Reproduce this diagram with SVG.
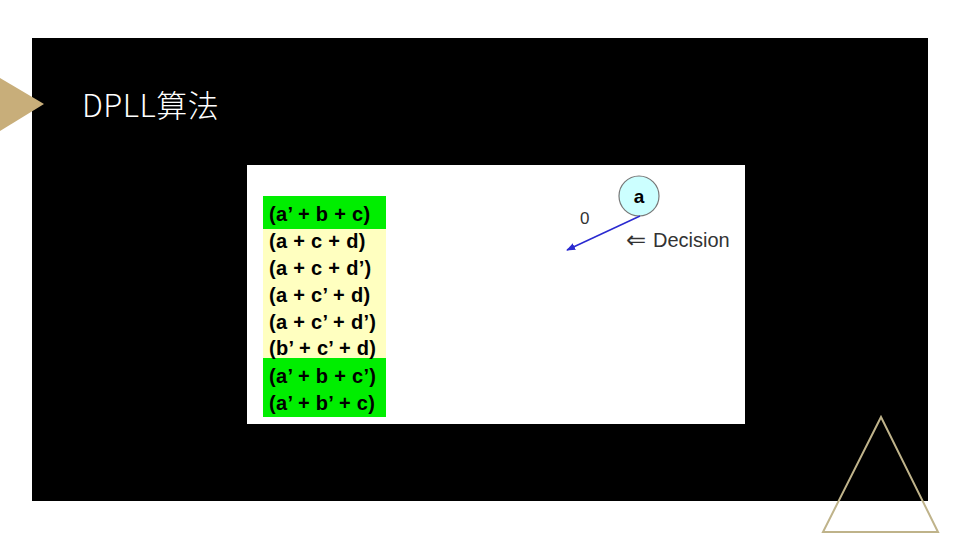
<svg xmlns="http://www.w3.org/2000/svg" width="960" height="540" viewBox="0 0 960 540">
<style>
.cl{font-family:"Liberation Sans",Arial,sans-serif;font-weight:bold;font-size:20px;fill:#000;letter-spacing:0.3px}
</style>
<defs>
<marker id="ah" viewBox="0 0 10 10" refX="9" refY="5" markerWidth="6" markerHeight="6" orient="auto"><path d="M0,1 L10,5 L0,9 z" fill="#2a2ad0"/></marker>
</defs>
<rect width="960" height="540" fill="#fff"/>
<rect x="32" y="38" width="896" height="463" fill="#000"/>
<polygon points="0,78 44,104 0,131" fill="#c8ae7a"/>
<text x="82" y="117" font-family="'Noto Sans CJK SC',sans-serif" font-weight="300" font-size="31" fill="#fff" letter-spacing="0.5">DPLL算法</text>
<rect x="247" y="165" width="498" height="259" fill="#fff"/>
<g id="clauses">
<rect x="263" y="196" width="123" height="33" fill="#00ee00"/>
<rect x="263" y="229" width="123" height="129" fill="#ffffc0"/>
<rect x="263" y="358" width="123" height="59" fill="#00ee00"/>
<text class="cl" x="269" y="221">(a’ + b + c)</text>
<text class="cl" x="269" y="248">(a + c + d)</text>
<text class="cl" x="269" y="275">(a + c + d’)</text>
<text class="cl" x="269" y="302">(a + c’ + d)</text>
<text class="cl" x="269" y="329">(a + c’ + d’)</text>
<text class="cl" x="269" y="355">(b’ + c’ + d)</text>
<text class="cl" x="269" y="383">(a’ + b + c’)</text>
<text class="cl" x="269" y="410">(a’ + b’ + c)</text>
</g>
<g id="node-a">
<circle cx="639" cy="196" r="20" fill="#ccffff" stroke="#777" stroke-width="1.2"/>
<text x="639" y="203" text-anchor="middle" font-family="'Liberation Sans',Arial,sans-serif" font-weight="bold" font-size="19">a</text>
</g>
<g id="connectors">
<line x1="640" y1="216" x2="567" y2="250" stroke="#2a2ad0" stroke-width="1.5" marker-end="url(#ah)"/>
</g>
<text x="580" y="224" font-family="'Liberation Sans',Arial,sans-serif" font-size="17" fill="#333">0</text>
<text x="626" y="248" font-family="'DejaVu Sans','Liberation Sans',sans-serif" font-size="24" fill="#333">⇐</text>
<text x="653" y="247" font-family="'Liberation Sans',Arial,sans-serif" font-size="20" fill="#333">Decision</text>
<polygon points="881,417 823,532 938,532" fill="none" stroke="#bfb38a" stroke-width="2"/>
</svg>
